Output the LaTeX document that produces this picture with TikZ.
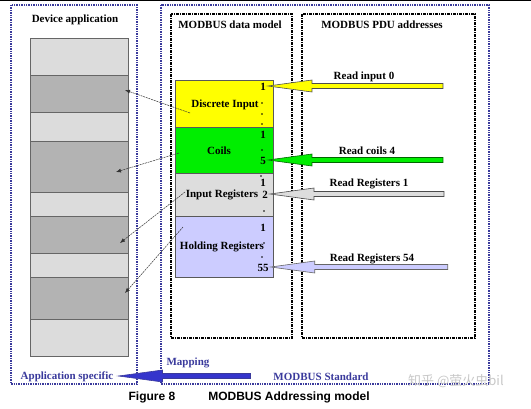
\documentclass[tikz,border=0pt]{standalone}
\usepackage{fontspec}
\setmainfont{Liberation Serif}
\setsansfont{Liberation Sans}
\newfontfamily\cjk{Noto Sans CJK SC}
\usetikzlibrary{arrows.meta, positioning, calc}

\begin{document}
\begin{tikzpicture}[
    x=1pt, y=-1pt,
    every node/.style={font=\bfseries\fontsize{11}{12}\selectfont, inner sep=0pt},
]

\definecolor{navy}{HTML}{3A3A9C}
\definecolor{mapblue}{HTML}{3535CC}
\definecolor{bandlight}{HTML}{DCDCDC}
\definecolor{banddark}{HTML}{B3B3B3}
\definecolor{diyellow}{HTML}{FFFF00}
\definecolor{coilgreen}{HTML}{00EE00}
\definecolor{irgray}{HTML}{DDDDDD}
\definecolor{hrlav}{HTML}{CCCCFF}

% ================================================================
%  GEOMETRY, one unit = one pixel of the 531 x 408 reference,
%  y running downwards.
%
%  outer dotted frames:  application  x 11..137,  y 5..384
%                        standard     x 161..489, y 5..384
%  inner dash-dot frames: data model  x 171..292, y 14..338
%                         PDU         x 302..475, y 14..338
%  device column x 30..128, nine bands from y 38 to 356
%  data model column x 175..273:
%     discrete 80..127, coils 127..173, input reg 173..216,
%     holding 216..277
%  fat arrows: head 44 long (half 6), shaft half 2.5
% ================================================================

\tikzset{
  frame/.style={draw=navy, line width=1.6pt, dash pattern=on 1.4pt off 1pt},
  inner/.style={draw=black, line width=1.1pt,
                dash pattern=on 3pt off 1pt on 1pt off 1pt},
  band/.style={draw=black!60, line width=0.6pt},
  blk/.style={draw=black!65, line width=0.6pt, minimum width=98pt},
  fat/.style={line width=0.6pt, line join=miter},
  maplink/.style={draw=black!80, line width=0.5pt, dash pattern=on 2pt off 0.8pt,
                  -{Latex[length=5pt, width=4pt]}},
  blue/.style={text=navy},
  caption/.style={font=\sffamily\bfseries\fontsize{12}{14}\selectfont},
}

% the block arrow: tip, head, then a shaft of length #4 to the right
\newcommand{\fatarrow}[4]{%
  \draw[fat, fill=#1, draw=#2] (#3) -- ++(44,-6) -- ++(0,3.5) -- ++(#4,0)
      -- ++(0,5) -- ++(-#4,0) -- ++(0,3.5) -- cycle;
}

\useasboundingbox (0,0) rectangle (531,408);
\draw[black, line width=0.8pt] (0,0.5) -- (531,0.5);

% ---------------------------------------------------------------- frames
\draw[frame] (11,5) rectangle (137,384);
\draw[frame] (161,5) rectangle (489,384);
\draw[inner] (171,14) rectangle (292,338);
\draw[inner] (302,14) rectangle (475,338);

\node (tapp) at (75,20) {Device application};
\node (tdm) at (230,25) {MODBUS data model};
\node (tpdu) at (382,25) {MODBUS PDU addresses};

% ---------------------------------------------------------------- device column
\foreach \ya/\yb/\c in {38/75/bandlight, 75/112/banddark, 112/141/bandlight,
    141/192/banddark, 192/216/bandlight, 216/253/banddark,
    253/277/bandlight, 277/319/banddark, 319/356/bandlight} {
    \draw[band, fill=\c] (30,\ya) rectangle (128,\yb);
}

% ---------------------------------------------------------------- data model
\node[blk, fill=diyellow, minimum height=47pt] (di) at (224,103.5) {};
\node[blk, fill=coilgreen, minimum height=46pt] (co) at (224,150) {};
\node[blk, fill=irgray, minimum height=43pt] (ir) at (224,194.5) {};
\node[blk, fill=hrlav, minimum height=61pt] (hr) at (224,246.5) {};

\node (dilab) at (225,105) {Discrete Input};
\node (colab) at (219,151) {Coils};
\node (irlab) at (222,195) {Input Registers};
\node (hrlab) at (222,247) {Holding Registers};

\node (di1) at (263,87) {1};
\node (co1) at (263,135) {1};
\node (co5) at (263,161) {5};
\node (ir1) at (263,183) {1};
\node (ir2) at (265,195) {2};
\node (hr1) at (263,228) {1};
\node (hr55) at (263,268) {55};

\foreach \dx/\dy in {262/103, 262/114, 262/124, 262/150, 261/176, 264/211,
    264/243, 262/257} {
    \fill (\dx,\dy) circle (0.8);
}

% ---------------------------------------------------------------- PDU arrows
\foreach \n in {di1, co5, ir2, hr55} { \coordinate (tip-\n) at ($(\n.east)+(2,-1)$); }
\fatarrow{diyellow}{black!70}{tip-di1}{131}
\fatarrow{coilgreen}{green!40!black}{tip-co5}{131}
\fatarrow{irgray}{black!70}{tip-ir2}{130}
\fatarrow{hrlav}{black!60}{tip-hr55}{133}

\node (rd0) at (364,77) {Read input 0};
\node (rc4) at (367,151) {Read coils 4};
\node (rr1) at (369,184) {Read Registers 1};
\node (rr54) at (372,259) {Read Registers 54};

% ---------------------------------------------------------------- mapping links
\foreach \i/\sx/\sy/\ex/\ey in {1/190/113/125/90, 2/179/153/116/172,
    3/185/192/120/243, 4/183/227/125/293} {
    \coordinate (src\i) at (\sx,\sy);
    \coordinate (dst\i) at (\ex,\ey);
    \draw[maplink] (src\i) -- (dst\i);
}

% ---------------------------------------------------------------- bottom
\node[blue] (appspec) at (67,377) {Application specific};
\node[blue] (mapping) at (188,363) {Mapping};
\node[blue] (mstd) at (321,377) {MODBUS Standard};
\coordinate (tip-map) at ($(appspec.east)+(5,-1)$);
\fatarrow{mapblue}{navy}{tip-map}{88}

\node[caption] (fig) at (152,397) {Figure 8};
\node[caption] (cap) at (289,397) {MODBUS Addressing model};

\node[font=\cjk\fontsize{13}{13}\selectfont, text=black!22] (wm) at (456,381)
    {知乎 @萤火虫bil};

\end{tikzpicture}
\end{document}
